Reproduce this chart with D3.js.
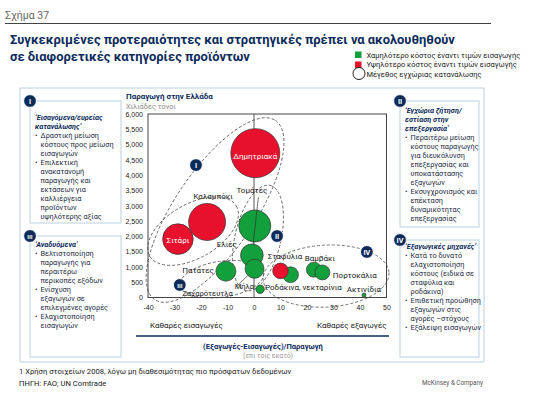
<!DOCTYPE html>
<meta charset="utf-8">
<style>
body { margin: 0; background: #fff; }
svg { display: block; font-family: Roboto, "Noto Sans", sans-serif; }
</style>
<svg width="534" height="405"></svg>
<script src="https://cdn.jsdelivr.net/npm/d3@7/dist/d3.min.js"></script>
<script>

// products, (exports-imports)/production in %, production and consumption in thousand tonnes
var products = ["Δημητριακά", "Ελιές", "Τομάτες", "Ζαχαρότευτλα", "Μήλα", "Πατάτες", "Καλαμπόκι",
    "Σιτάρι", "Σταφύλια", "Ροδάκινα, νεκταρίνια", "Βαμβάκι", "Πορτοκάλια", "Ακτινίδια"];
var tradeBalance = [0.5, 0.3, -0.8, 0.2, 2.3, -10.6, -17.7, -28.7, 10, 13.8, 22.6, 25.8, 41.5];
var production = [4720, 2340, 1380, 940, 270, 860, 2470, 1910, 870, 745, 910, 820, 80];
var consumption = [6000, 2560, 1280, 900, 180, 1000, 3420, 2340, 610, 620, 560, 560, 40];
var lowerCost = [false, true, true, true, true, true, false, false, false, true, true, true, true];

var xTicks = [-40, -30, -20, -10, 0, 10, 20, 30, 40, 50];
var yTicks = [0, 500, 1000, 1500, 2000, 2500, 3000, 3500, 4000, 4500, 5000, 5500, 6000];

var legendItems = ["Χαμηλότερο κόστος έναντι τιμών εισαγωγής", "Υψηλότερο κόστος έναντι τιμών εισαγωγής",
    "Μέγεθος εγχώριας κατανάλωσης"];

// text of the four boxes: h = heading, b = bullet, c = continued line
var boxI = [["h", "‘Εισαγόμενα/ευρείας"], ["h", "κατανάλωσης’"], ["b", "Δραστική μείωση"],
    ["c", "κόστους προς μείωση"], ["c", "εισαγωγών"], ["b", "Επιλεκτική"], ["c", "ανακατανομή"],
    ["c", "παραγωγής και"], ["c", "εκτάσεων για"], ["c", "καλλιέργεια"], ["c", "προϊόντων"],
    ["c", "υψηλότερης αξίας"]];
var boxII = [["h", "‘Εγχώρια ζήτηση/"], ["h", "εστίαση στην"], ["h", "επεξεργασία’"],
    ["b", "Περαιτέρω μείωση"], ["c", "κόστους παραγωγής"], ["c", "για διευκόλυνση"],
    ["c", "επεξεργασίας και"], ["c", "υποκατάστασης"], ["c", "εξαγωγών"],
    ["b", "Εκσυγχρονισμός και"], ["c", "επέκταση"], ["c", "δυναμικότητας"], ["c", "επεξεργασίας"]];
var boxIII = [["h", "‘Αναδυόμενα’"], ["b", "Βελτιστοποίηση"], ["c", "παραγωγής για"],
    ["c", "περαιτέρω"], ["c", "περικοπές εξόδων"], ["b", "Ενίσχυση"], ["c", "εξαγωγών σε"],
    ["c", "επιλεγμένες αγορές"], ["b", "Ελαχιστοποίηση"], ["c", "εισαγωγών"]];
var boxIV = [["h", "‘Εξαγωγικές μηχανές’"], ["b", "Κατά το δυνατό"], ["c", "ελαχιστοποίηση"],
    ["c", "κόστους (ειδικά σε"], ["c", "σταφύλια και"], ["c", "ροδάκινα)"],
    ["b", "Επιθετική προώθηση"], ["c", "εξαγωγών στις"], ["c", "αγορές –στόχους"],
    ["b", "Εξάλειψη εισαγωγών"]];

var navy = "#0c2b5b", green = "#12a03c", red = "#e8112d", boxLine = "#b9cfe1", ink = "#1e2b45";

var svg = d3.select("svg");

function fit(t, w) {
  var len = t.node().getComputedTextLength();
  t.attr("font-size", parseFloat(t.attr("font-size")) * w / len);
  return t;
}

// header
svg.append("text").attr("x", 5).attr("y", 19).attr("font-size", 10.5).attr("fill", "#666")
    .text("Σχήμα 37");
svg.append("line").attr("x1", 5).attr("x2", 491).attr("y1", 23.5).attr("y2", 23.5)
    .attr("stroke", "#444");

var t1 = svg.append("text").attr("x", 10).attr("y", 44).attr("font-size", 13)
    .attr("font-weight", "bold").attr("fill", navy)
    .text("Συγκεκριμένες προτεραιότητες και στρατηγικές πρέπει να ακολουθηθούν");
fit(t1, 445);
svg.append("text").attr("x", 10).attr("y", 61).attr("font-size", t1.attr("font-size"))
    .attr("font-weight", "bold").attr("fill", navy)
    .text("σε διαφορετικές κατηγορίες προϊόντων");

// legend
var lg = svg.append("g").attr("font-size", 7.5).attr("fill", "#222");
lg.append("rect").attr("x", 355).attr("y", 51.5).attr("width", 6.5).attr("height", 6.5).attr("fill", green);
lg.append("rect").attr("x", 355).attr("y", 61.5).attr("width", 6.5).attr("height", 6.5).attr("fill", red);
lg.append("circle").attr("cx", 359).attr("cy", 73.5).attr("r", 6)
    .attr("fill", "#fff").attr("stroke", "#222").attr("stroke-width", 1);
legendItems.forEach(function(d, i) {
  var t = lg.append("text").attr("x", 366.5).attr("y", 57.8 + i * 9.6).text(d);
  if (i === 0) fit(t, 160);
});
lg.selectAll("text").attr("font-size", lg.select("text").attr("font-size"));

// outer frame
svg.append("rect").attr("x", 20).attr("y", 88).attr("width", 464).attr("height", 274)
    .attr("fill", "none").attr("stroke", boxLine);

// side boxes
function drawBox(lines, bx, by, bw, bh, badge, first) {
  var g = svg.append("g");
  g.append("rect").attr("x", bx).attr("y", by).attr("width", bw).attr("height", bh)
      .attr("fill", "#fff").attr("stroke", boxLine);
  lines.forEach(function(l, i) {
    var yy = first + i * 9;
    var t = g.append("text").attr("y", yy).attr("font-size", 7.3).attr("fill", ink);
    if (l[0] === "h") {
      t.attr("x", bx + 5).attr("font-weight", "bold").attr("font-style", "italic")
          .attr("fill", navy).text(l[1]);
    } else {
      t.attr("x", bx + 10.5).text(l[1]);
      if (l[0] === "b") g.append("text").attr("x", bx + 5).attr("y", yy)
          .attr("font-size", 7.3).attr("fill", ink).text("•");
    }
  });
  drawBadge(bx, by, badge);
}

function drawBadge(cx, cy, label) {
  svg.append("circle").attr("cx", cx).attr("cy", cy).attr("r", 6.4)
      .attr("fill", navy).attr("stroke", "#fff").attr("stroke-width", 1);
  svg.append("text").attr("x", cx).attr("y", cy + 2.6).attr("text-anchor", "middle")
      .attr("font-size", label.length > 2 ? 6 : 7.2).attr("font-weight", "bold")
      .attr("fill", "#fff").text(label);
}

drawBox(boxI, 30, 101, 91, 122, "I", 119.5);
drawBox(boxIII, 30, 236, 91, 121, "III", 247);
drawBox(boxII, 400, 101, 79, 126, "II", 113);
drawBox(boxIV, 400, 240, 79, 117, "IV", 249);

// chart
var x = d3.scaleLinear().domain([-40, 50]).range([148, 386.5]);
var y = d3.scaleLinear().domain([0, 6000]).range([297.5, 114]);
var r = d3.scaleSqrt().domain([0, 6000]).range([0, 24.5]);

var p1 = svg.append("text").attr("x", 126).attr("y", 98.5).attr("font-size", 8.5)
    .attr("font-weight", "bold").attr("fill", navy).text("Παραγωγή στην Ελλάδα");
fit(p1, 87);
var p2 = svg.append("text").attr("x", 126).attr("y", 108.5).attr("font-size", 8)
    .attr("fill", "#8c8c8c").text("Χιλιάδες τόνοι");
fit(p2, 50);

var yAxis = svg.append("g").attr("transform", "translate(" + x(-40) + ",0)")
    .call(d3.axisLeft(y).tickValues(yTicks).tickSize(0).tickPadding(5).tickFormat(d3.format(",")));
var xAxis = svg.append("g").attr("transform", "translate(0," + y(0) + ")")
    .call(d3.axisBottom(x).tickValues(xTicks).tickSize(0).tickPadding(8).tickFormat(String));
[xAxis, yAxis].forEach(function(a) {
  a.select(".domain").remove();
  a.selectAll("text").attr("font-size", 7).attr("font-family", null).attr("fill", "#222");
});

// cluster outlines (centre in data units, radii in px)
var zones = [
  { cx: -14.7, cy: 2860, rx: 108, ry: 40, rot: -56 },
  { cx: -23, cy: 2170, rx: 50, ry: 27, rot: -30 },
  { cx: 1.5, cy: 1945, rx: 54, ry: 23, rot: -77 },
  { cx: -12.1, cy: 600, rx: 42, ry: 18, rot: -8 },
  { cx: 27.2, cy: 700, rx: 63, ry: 31, rot: -3 }
];
svg.append("g").selectAll("ellipse").data(zones).join("ellipse")
    .attr("transform", function(d) { return "translate(" + x(d.cx) + "," + y(d.cy) + ") rotate(" + d.rot + ")"; })
    .attr("rx", function(d) { return d.rx; })
    .attr("ry", function(d) { return d.ry; })
    .attr("fill", "none").attr("stroke", "#555").attr("stroke-width", 0.8)
    .attr("stroke-dasharray", "3,2");

// frame and zero line
svg.append("rect").attr("x", x(-40)).attr("y", y(6000))
    .attr("width", x(50) - x(-40)).attr("height", y(0) - y(6000))
    .attr("fill", "none").attr("stroke", "#444");
svg.append("line").attr("x1", x(0)).attr("x2", x(0)).attr("y1", y(6000)).attr("y2", y(0))
    .attr("stroke", "#555");

var items = products.map(function(p, i) {
  return { name: p, bx: tradeBalance[i], py: production[i], c: consumption[i], low: lowerCost[i] };
});

svg.append("g").selectAll("circle")
    .data(items.slice().sort(function(a, b) { return b.c - a.c; }))
    .join("circle")
    .attr("cx", function(d) { return x(d.bx); })
    .attr("cy", function(d) { return y(d.py); })
    .attr("r", function(d) { return r(d.c); })
    .attr("fill", function(d) { return d.low ? green : red; })
    .attr("stroke", "#333").attr("stroke-width", 0.7);

// label placement, offsets in px from bubble centre
var labelPos = {
  "Δημητριακά": [0, 6, "middle", "#fff"],
  "Σιτάρι": [0, 3.5, "middle", "#fff"],
  "Καλαμπόκι": [6, -23, "middle"],
  "Τομάτες": [0, -62, "middle"],
  "Ελιές": [-28, 21, "middle"],
  "Ζαχαρότευτλα": [-47, 27, "middle"],
  "Μήλα": [-6, 0, "end"],
  "Πατάτες": [-12, 2, "end"],
  "Σταφύλια": [4.5, -12, "middle"],
  "Ροδάκινα, νεκταρίνια": [-25.5, 15.5, "start"],
  "Βαμβάκι": [6, -9, "middle"],
  "Πορτοκάλια": [10.5, 5.5, "start"],
  "Ακτινίδια": [0, -3.5, "middle"]
};

// leader lines
var leaders = [["Τομάτες", 6.5, -58], ["Ζαχαρότευτλα", -18, 18]];
leaders.forEach(function(l) {
  var d = items.find(function(e) { return e.name === l[0]; });
  var cx = x(d.bx), cy = y(d.py), rr = r(d.c);
  var sx = cx + l[1], sy = cy + l[2];
  var ang = Math.atan2(sy - cy, sx - cx);
  svg.append("line").attr("x1", sx).attr("y1", sy)
      .attr("x2", cx + rr * Math.cos(ang)).attr("y2", cy + rr * Math.sin(ang))
      .attr("stroke", "#333").attr("stroke-width", 0.7);
});

svg.append("g").selectAll("text").data(items).join("text")
    .attr("x", function(d) { return x(d.bx) + labelPos[d.name][0]; })
    .attr("y", function(d) { return y(d.py) + labelPos[d.name][1]; })
    .attr("text-anchor", function(d) { return labelPos[d.name][2]; })
    .attr("fill", function(d) { return labelPos[d.name][3] || "#222"; })
    .attr("font-size", function(d) { return d.name === "Μήλα" || d.name === "Ζαχαρότευτλα" ? 7.6 : 8; })
    .text(function(d) { return d.name; });

// zone badges inside the chart
drawBadge(x(-21.9), y(4330), "I");
drawBadge(x(8.7), y(2010), "II");
drawBadge(x(-28), y(410), "III");
drawBadge(x(42.6), y(1490), "IV");

// axis captions
svg.append("text").attr("x", x(-40) + 2).attr("y", 328).attr("font-size", 8).attr("fill", "#222")
    .text("Καθαρές εισαγωγές");
svg.append("text").attr("x", x(50)).attr("y", 328).attr("font-size", 8).attr("fill", "#222")
    .attr("text-anchor", "end").text("Καθαρές εξαγωγές");
svg.append("line").attr("x1", 136).attr("x2", 389).attr("y1", 336).attr("y2", 336)
    .attr("stroke", navy).attr("stroke-width", 1.3);
var xl = svg.append("text").attr("x", 263).attr("y", 348.5).attr("text-anchor", "middle")
    .attr("font-size", 8).attr("font-weight", "bold").attr("fill", navy)
    .text("(Εξαγωγές-Εισαγωγές)/Παραγωγή");
fit(xl, 120);
svg.append("text").attr("x", 268).attr("y", 358).attr("text-anchor", "middle")
    .attr("font-size", 6.8).attr("fill", "#999").text("(επι τοις εκατό)");

// footer
var f1 = svg.append("text").attr("x", 19).attr("y", 374).attr("font-size", 7.3).attr("fill", "#222")
    .text("1 Χρήση στοιχείων 2008, λόγω μη διαθεσιμότητας πιο πρόσφατων δεδομένων");
fit(f1, 273);
svg.append("text").attr("x", 19).attr("y", 385.5).attr("font-size", f1.attr("font-size"))
    .attr("fill", "#222").text("ΠΗΓΗ: FAO; UN Comtrade");
svg.append("text").attr("x", 483).attr("y", 385).attr("text-anchor", "end")
    .attr("font-size", 6.3).attr("fill", "#555").text("McKinsey & Company");

</script>
